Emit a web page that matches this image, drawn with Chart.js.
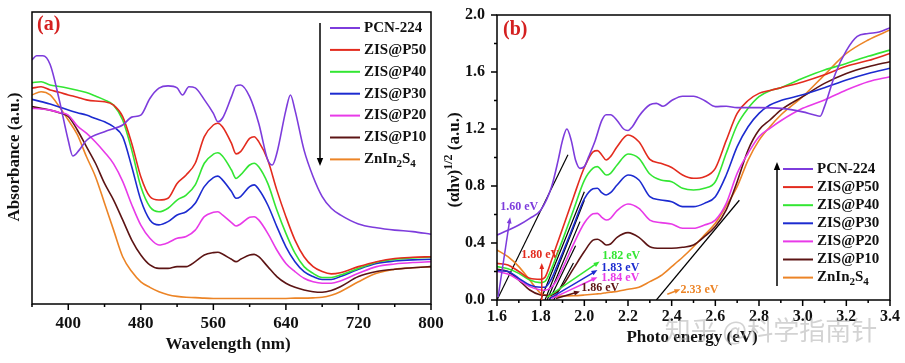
<!DOCTYPE html>
<html>
<head>
<meta charset="utf-8">
<script src="https://cdn.jsdelivr.net/npm/chart.js@4.4.1/dist/chart.umd.min.js"></script>
<style>
html, body { margin: 0; padding: 0; background: #fff; }
#wrap { position: relative; width: 905px; height: 363px; overflow: hidden; background: #fff; }
#chartA { position: absolute; left: 0; top: 0; }
#chartB { position: absolute; left: 440px; top: 0; }
</style>
</head>
<body>
<div id="wrap">
  <canvas id="chartA" width="452" height="363" style="width:452px;height:363px"></canvas>
  <canvas id="chartB" width="465" height="363" style="width:465px;height:363px"></canvas>
</div>
<script>
var SERIF = '"Liberation Serif", "Times New Roman", serif';

var seriesNames = ['PCN-224', 'ZIS@P50', 'ZIS@P40', 'ZIS@P30', 'ZIS@P20', 'ZIS@P10', 'ZnIn_2S_4'];
var seriesColors = ['#7d3cdc', '#e32b1e', '#33e633', '#1c2bd0', '#e83ae8', '#5c1414', '#ec8426'];

// ---- panel (a): absorbance, arbitrary units 0..100 ----
var wavelength = [360, 370, 380, 390, 400, 410, 420, 430, 440, 450, 460, 470, 480, 490, 500, 510, 520, 530, 540, 550, 560,
  565, 570, 580, 585, 590, 600, 605, 610, 620, 630, 640, 650, 660, 670, 680, 690, 700, 720, 740, 760, 780, 800];
var pcnWavelength = [360, 365, 372, 380, 390, 400, 405, 412, 420, 440, 460, 470, 480, 490, 500, 510, 520, 526, 533, 540,
  550, 560, 565, 570, 580, 585, 590, 600, 610, 620, 625, 630, 640, 645, 650, 660, 670, 680, 690, 700, 720, 740, 760, 780, 800];

var absPCN = [83.6, 85, 85, 82, 70, 56, 50.7, 52.7, 56, 59, 61.3, 64, 64.7, 70.4, 73.9, 74.7, 74, 71.6, 74.4, 74,
  70, 65.3, 62.4, 63.6, 71, 74.7, 75, 71, 61.9, 49.3, 47.6, 51.6, 66.4, 71.6, 66.4, 52.7, 43.6, 36.8, 32.8, 30.5, 27.4, 26.1, 25.3, 24.8, 23.9];
var absP50 = [73.9, 74.4, 73.3, 72.5, 71.6, 70.8, 69.9, 69.5, 69.3, 68.1, 64.2, 55, 43.6, 36.8, 35.6, 36.2, 41.3, 44.2, 48.2, 57.3, 61.3,
  61.9, 60.7, 55, 51.4, 52.2, 56.7, 57.3, 55.6, 49.3, 39, 29.9, 21.9, 16.2, 12.8, 11.1, 10.3, 10.7, 12.8, 14.5, 15.6, 16, 16.2];
var absP40 = [75.8, 76.1, 75, 74.5, 73.9, 73.2, 72.4, 71.2, 69.9, 68.1, 63, 52.7, 40.2, 33.3, 31.6, 32.8, 35.6, 37.3, 40.8, 48.2, 51.3,
  51.8, 50.7, 45.9, 43, 44.2, 47.6, 48.2, 47, 41.3, 32.2, 24.2, 17.4, 12.8, 10.5, 9.1, 9.1, 9.9, 12.2, 14.3, 15.3, 15.8, 16];
var absP30 = [70.1, 69.3, 68.5, 67.5, 66.4, 65.5, 64.7, 63.5, 62.4, 60.7, 57.3, 47, 35.6, 28.8, 27.1, 28.2, 30.5, 31.6, 34.5, 40.2, 43.3,
  43.8, 42.5, 38.5, 36.2, 36.8, 40.2, 40.8, 39.3, 33.9, 26.5, 19.6, 14.5, 11.1, 9.4, 8.4, 8.4, 9.4, 11.9, 13.9, 14.7, 15.1, 15.3];
var absP20 = [67, 66.8, 66.4, 65.6, 64.7, 61, 58.5, 55.5, 52, 48, 42, 34, 27, 22.5, 20.2, 21, 22.5, 23.1, 25.3, 29.9, 31.4,
  31.6, 30.5, 27.9, 26.7, 27.4, 29.7, 29.9, 28.8, 24.2, 18.5, 13.9, 11.1, 8.8, 7.6, 7.1, 7.1, 7.9, 10.5, 12.8, 13.7, 14.2, 14.5];
var absP10 = [67.6, 67, 66.4, 65.5, 64.2, 59.6, 53.9, 48.2, 41.3, 35.6, 28.8, 21.9, 16.8, 13.4, 12.2, 12.2, 12.8, 12.8, 14.5, 16.8, 17.6,
  17.7, 17.1, 15.3, 14.5, 15.3, 16.8, 17, 16.2, 12.8, 9.4, 7.1, 5.7, 4.8, 4.2, 4, 4.6, 5.9, 9.4, 11.1, 11.9, 12.4, 12.8];
var absZIS = [71.6, 72.7, 71.6, 67.6, 63, 58, 50.5, 43.6, 34.5, 25.3, 16.2, 11.1, 7.6, 5.7, 4.2, 3.2, 2.6, 2.3, 2.2, 2, 1.9,
  1.9, 1.9, 1.9, 1.9, 1.9, 1.9, 1.9, 1.9, 1.9, 1.9, 1.9, 2, 2, 2.1, 2.3, 3, 4.2, 7.6, 10.5, 11.9, 12.4, 12.8];

// ---- panel (b): Tauc plot ----
var energy = [1.6, 1.65, 1.7, 1.75, 1.8, 1.82, 1.85, 1.87, 1.9, 1.95, 2.0, 2.04, 2.06, 2.08, 2.1, 2.12, 2.15, 2.2, 2.25, 2.3,
  2.35, 2.4, 2.45, 2.5, 2.55, 2.6, 2.65, 2.7, 2.75, 2.8, 2.85, 2.9, 3.0, 3.1, 3.2, 3.3, 3.4];
var pcnEnergy = [1.6, 1.65, 1.7, 1.75, 1.8, 1.85, 1.88, 1.9, 1.92, 1.94, 1.96, 1.98, 2.0, 2.02, 2.05, 2.08, 2.1, 2.12, 2.15, 2.18,
  2.2, 2.22, 2.25, 2.3, 2.33, 2.36, 2.4, 2.45, 2.5, 2.55, 2.6, 2.65, 2.7, 2.8, 2.9, 3.0, 3.05, 3.08, 3.1, 3.15, 3.2, 3.25, 3.3, 3.35, 3.4];

var taucPCN = [0.456, 0.49, 0.526, 0.573, 0.63, 0.795, 0.98, 1.12, 1.2, 1.12, 0.98, 0.924, 0.936, 1.006, 1.12, 1.26, 1.3, 1.3, 1.26, 1.2,
  1.19, 1.216, 1.29, 1.37, 1.38, 1.36, 1.40, 1.43, 1.43, 1.40, 1.357, 1.36, 1.35, 1.35, 1.345, 1.32, 1.3, 1.29, 1.357, 1.59, 1.75, 1.85, 1.87, 1.88, 1.91];
var taucP50 = [0.257, 0.246, 0.2, 0.152, 0.145, 0.16, 0.28, 0.37, 0.5, 0.72, 0.93, 1.04, 1.048, 1.018, 0.982, 1.006, 1.076, 1.158, 1.11, 0.987,
  0.959, 0.93, 0.877, 0.854, 0.865, 0.924, 1.12, 1.31, 1.40, 1.45, 1.47, 1.49, 1.53, 1.58, 1.64, 1.68, 1.73];
var taucP40 = [0.234, 0.22, 0.187, 0.14, 0.122, 0.13, 0.22, 0.3, 0.42, 0.63, 0.84, 0.925, 0.936, 0.908, 0.877, 0.889, 0.947, 1.025, 0.994, 0.884,
  0.842, 0.83, 0.784, 0.772, 0.784, 0.83, 1.03, 1.228, 1.345, 1.427, 1.469, 1.49, 1.556, 1.614, 1.66, 1.71, 1.754];
var taucP30 = [0.206, 0.2, 0.152, 0.105, 0.089, 0.09, 0.15, 0.22, 0.33, 0.52, 0.71, 0.78, 0.784, 0.753, 0.737, 0.753, 0.807, 0.877, 0.842, 0.725,
  0.702, 0.69, 0.655, 0.655, 0.678, 0.725, 0.877, 1.076, 1.216, 1.31, 1.368, 1.40, 1.44, 1.49, 1.544, 1.59, 1.626];
var taucP20 = [0.2, 0.182, 0.14, 0.094, 0.07, 0.068, 0.09, 0.13, 0.22, 0.39, 0.54, 0.605, 0.608, 0.58, 0.561, 0.573, 0.627, 0.674, 0.643, 0.561,
  0.543, 0.533, 0.503, 0.503, 0.526, 0.561, 0.678, 0.889, 1.03, 1.146, 1.205, 1.258, 1.345, 1.404, 1.474, 1.532, 1.567];
var taucP10 = [0.215, 0.2, 0.14, 0.07, 0.035, 0.033, 0.035, 0.05, 0.1, 0.22, 0.34, 0.42, 0.426, 0.41, 0.386, 0.393, 0.44, 0.473, 0.44, 0.374,
  0.363, 0.363, 0.37, 0.386, 0.444, 0.515, 0.632, 0.83, 1.053, 1.193, 1.263, 1.333, 1.427, 1.52, 1.59, 1.637, 1.672];
var taucZIS = [0.351, 0.304, 0.234, 0.14, 0.047, 0.035, 0.023, 0.025, 0.028, 0.03, 0.035, 0.04, 0.043, 0.046, 0.051, 0.055, 0.06, 0.075, 0.09, 0.129,
  0.17, 0.234, 0.3, 0.374, 0.455, 0.538, 0.66, 0.795, 0.982, 1.12, 1.216, 1.298, 1.427, 1.58, 1.73, 1.825, 1.895];

// tangent lines (x intercept -> end point)
var tangentX0 = [1.60, 1.80, 1.82, 1.83, 1.84, 1.86, 2.33];
var tangentX1 = [1.925, 2.0, 2.0, 1.98, 1.96, 1.95, 2.71];
var tangentY1 = [1.02, 0.76, 0.70, 0.55, 0.38, 0.26, 0.70];

// band gap notes
var gapLabels = ['1.60 eV', '1.80 eV', '1.82 eV', '1.83 eV', '1.84 eV', '1.86 eV', '2.33 eV'];
var arrowX0 = [1.605, 1.805, 1.83, 1.84, 1.85, 1.87, 2.38];
var arrowY0 = [0.02, 0.0, 0.02, 0.01, 0.01, 0.01, 0.04];
var arrowX1 = [1.66, 1.805, 2.07, 2.06, 2.06, 1.98, 2.44];
var arrowY1 = [0.58, 0.26, 0.27, 0.21, 0.16, 0.06, 0.075];
var labelX = [1.702, 1.798, 2.169, 2.165, 2.165, 2.073, 2.527];
var labelY = [0.653, 0.316, 0.309, 0.225, 0.154, 0.084, 0.07];

function lineSet(xs, ys, color) {
  return {
    data: xs.map(function (x, i) { return { x: x, y: ys[i] }; }),
    borderColor: color,
    borderWidth: 1.6,
    pointRadius: 0,
    cubicInterpolationMode: 'monotone',
    fill: false
  };
}

function drawRich(ctx, text, x, y, size, color) {
  var parts = text.split(/(_\d)/).filter(Boolean);
  ctx.fillStyle = color;
  ctx.textBaseline = 'middle';
  ctx.textAlign = 'left';
  var cx = x;
  parts.forEach(function (p) {
    var sub = p[0] === '_';
    var s = sub ? p.slice(1) : p;
    ctx.font = 'bold ' + (sub ? Math.round(size * 0.72) : size) + 'px ' + SERIF;
    ctx.fillText(s, cx, y + (sub ? size * 0.3 : 0));
    cx += ctx.measureText(s).width;
  });
}

function drawArrow(ctx, x0, y0, x1, y1, color, lw, hs) {
  var ang = Math.atan2(y1 - y0, x1 - x0);
  ctx.strokeStyle = color;
  ctx.fillStyle = color;
  ctx.lineWidth = lw;
  ctx.beginPath();
  ctx.moveTo(x0, y0);
  ctx.lineTo(x1 - Math.cos(ang) * hs * 0.8, y1 - Math.sin(ang) * hs * 0.8);
  ctx.stroke();
  ctx.beginPath();
  ctx.moveTo(x1, y1);
  ctx.lineTo(x1 - hs * Math.cos(ang) + hs * 0.4 * Math.sin(ang), y1 - hs * Math.sin(ang) - hs * 0.4 * Math.cos(ang));
  ctx.lineTo(x1 - hs * Math.cos(ang) - hs * 0.4 * Math.sin(ang), y1 - hs * Math.sin(ang) + hs * 0.4 * Math.cos(ang));
  ctx.closePath();
  ctx.fill();
}

function drawFrame(chart, yTicks) {
  var ctx = chart.ctx, a = chart.chartArea, sx = chart.scales.x;
  ctx.strokeStyle = '#000';
  ctx.lineWidth = 1.5;
  ctx.strokeRect(a.left, a.top, a.right - a.left, a.bottom - a.top);
  ctx.beginPath();
  sx.ticks.forEach(function (t) {
    var px = sx.getPixelForValue(t.value);
    var len = t.label ? 6 : 3;
    ctx.moveTo(px, a.bottom);
    ctx.lineTo(px, a.bottom + len);
  });
  if (yTicks) {
    var sy = chart.scales.y;
    sy.ticks.forEach(function (t) {
      var py = sy.getPixelForValue(t.value);
      var len = t.label ? 6 : 3;
      ctx.moveTo(a.left, py);
      ctx.lineTo(a.left - len, py);
    });
  }
  ctx.stroke();
}

function drawLegend(ctx, x0, x1, tx, y0, dy, size) {
  seriesNames.forEach(function (name, i) {
    var y = y0 + i * dy;
    ctx.strokeStyle = seriesColors[i];
    ctx.lineWidth = 2;
    ctx.beginPath();
    ctx.moveTo(x0, y);
    ctx.lineTo(x1, y);
    ctx.stroke();
    drawRich(ctx, name, tx, y, size, '#111');
  });
}

Chart.defaults.font.family = SERIF;
Chart.defaults.color = '#111';

var decorA = {
  id: 'decorA',
  afterDraw: function (chart) {
    var ctx = chart.ctx, a = chart.chartArea;
    ctx.save();
    drawFrame(chart, false);
    // axis titles
    ctx.fillStyle = '#111';
    ctx.font = 'bold 17px ' + SERIF;
    ctx.textAlign = 'center';
    ctx.textBaseline = 'middle';
    ctx.fillText('Wavelength (nm)', 228, 345);
    ctx.save();
    ctx.translate(15, 157);
    ctx.rotate(-Math.PI / 2);
    ctx.fillText('Absorbance (a.u.)', 0, 0);
    ctx.restore();
    // panel letter
    ctx.fillStyle = '#d42020';
    ctx.font = 'bold 20px ' + SERIF;
    ctx.textAlign = 'left';
    ctx.fillText('(a)', a.left + 5, a.top + 13);
    // legend
    drawArrow(ctx, 320, 23, 320, 166, '#000', 1.5, 8);
    drawLegend(ctx, 330, 360, 364, 28, 21.9, 15);
    ctx.restore();
  }
};

var decorB = {
  id: 'decorB',
  afterDraw: function (chart) {
    var ctx = chart.ctx, a = chart.chartArea, sx = chart.scales.x, sy = chart.scales.y;
    ctx.save();
    drawFrame(chart, true);
    // band gap arrows and labels
    gapLabels.forEach(function (lab, i) {
      drawArrow(ctx, sx.getPixelForValue(arrowX0[i]), sy.getPixelForValue(arrowY0[i]),
        sx.getPixelForValue(arrowX1[i]), sy.getPixelForValue(arrowY1[i]), seriesColors[i], 1.5, 6);
      ctx.fillStyle = seriesColors[i];
      ctx.font = 'bold 12px ' + SERIF;
      ctx.textAlign = 'center';
      ctx.textBaseline = 'middle';
      ctx.fillText(lab, sx.getPixelForValue(labelX[i]), sy.getPixelForValue(labelY[i]));
    });
    // axis titles
    ctx.fillStyle = '#111';
    ctx.font = 'bold 17px ' + SERIF;
    ctx.textAlign = 'center';
    ctx.textBaseline = 'middle';
    ctx.fillText('Photo energy (eV)', 252, 338);
    ctx.save();
    ctx.translate(15, 160);
    ctx.rotate(-Math.PI / 2);
    var p1 = '(\u03b1h\u03bd)', p2 = '1/2', p3 = ' (a.u.)';
    ctx.font = 'bold 17px ' + SERIF;
    var w1 = ctx.measureText(p1).width, w3 = ctx.measureText(p3).width;
    ctx.font = 'bold 12px ' + SERIF;
    var w2 = ctx.measureText(p2).width;
    var sx0 = -(w1 + w2 + w3) / 2;
    ctx.textAlign = 'left';
    ctx.font = 'bold 17px ' + SERIF;
    ctx.fillText(p1, sx0, 0);
    ctx.fillText(p3, sx0 + w1 + w2, 0);
    ctx.font = 'bold 12px ' + SERIF;
    ctx.fillText(p2, sx0 + w1, -6);
    ctx.restore();
    // panel letter
    ctx.fillStyle = '#d42020';
    ctx.font = 'bold 20px ' + SERIF;
    ctx.textAlign = 'left';
    ctx.fillText('(b)', a.left + 6, a.top + 15);
    // legend
    drawArrow(ctx, 337, 286, 337, 162, '#000', 1.5, 8);
    drawLegend(ctx, 343, 373, 377, 169, 18.1, 15);
    // watermark
    ctx.font = '26px "Noto Sans CJK SC", sans-serif';
    ctx.fillStyle = 'rgba(175,175,175,0.55)';
    ctx.textAlign = 'center';
    ctx.fillText('\u77e5\u4e4e @\u79d1\u5b66\u6307\u5357\u9488', 331, 330);
    ctx.restore();
  }
};

var absSets = [
  lineSet(pcnWavelength, absPCN, seriesColors[0]),
  lineSet(wavelength, absP50, seriesColors[1]),
  lineSet(wavelength, absP40, seriesColors[2]),
  lineSet(wavelength, absP30, seriesColors[3]),
  lineSet(wavelength, absP20, seriesColors[4]),
  lineSet(wavelength, absP10, seriesColors[5]),
  lineSet(wavelength, absZIS, seriesColors[6])
];

new Chart(document.getElementById('chartA'), {
  type: 'line',
  data: { datasets: absSets },
  options: {
    responsive: false,
    animation: false,
    parsing: false,
    layout: { autoPadding: false, padding: { left: 32, top: 12, right: 21, bottom: 0 } },
    plugins: { legend: { display: false }, tooltip: { enabled: false } },
    scales: {
      x: {
        type: 'linear', min: 360, max: 800,
        grid: { display: false, drawTicks: false },
        border: { display: false },
        ticks: {
          stepSize: 40, autoSkip: false, maxRotation: 0, padding: 9,
          font: { size: 17, weight: 'bold' }, color: '#111',
          callback: function (v) { return v % 80 === 0 ? String(v) : ''; }
        },
        afterFit: function (s) { s.height = 59; s.paddingLeft = 0; s.paddingRight = 0; }
      },
      y: { display: false, min: 0, max: 100 }
    }
  },
  plugins: [decorA]
});

var taucSets = [
  lineSet(pcnEnergy, taucPCN, seriesColors[0]),
  lineSet(energy, taucP50, seriesColors[1]),
  lineSet(energy, taucP40, seriesColors[2]),
  lineSet(energy, taucP30, seriesColors[3]),
  lineSet(energy, taucP20, seriesColors[4]),
  lineSet(energy, taucP10, seriesColors[5]),
  lineSet(energy, taucZIS, seriesColors[6])
];
tangentX0.forEach(function (x0, i) {
  taucSets.push({
    data: [{ x: x0, y: 0 }, { x: tangentX1[i], y: tangentY1[i] }],
    borderColor: '#000', borderWidth: 1.2, pointRadius: 0, fill: false
  });
});

new Chart(document.getElementById('chartB'), {
  type: 'line',
  data: { datasets: taucSets },
  options: {
    responsive: false,
    animation: false,
    parsing: false,
    layout: { autoPadding: false, padding: { left: 0, top: 15, right: 15, bottom: 0 } },
    plugins: { legend: { display: false }, tooltip: { enabled: false } },
    scales: {
      x: {
        type: 'linear', min: 1.6, max: 3.4,
        grid: { display: false, drawTicks: false },
        border: { display: false },
        ticks: {
          stepSize: 0.1, autoSkip: false, maxRotation: 0, padding: 7,
          font: { size: 16, weight: 'bold' }, color: '#111',
          callback: function (v) { var k = Math.round(v * 10); return k % 2 === 0 ? (k / 10).toFixed(1) : ''; }
        },
        afterFit: function (s) { s.height = 63; s.paddingLeft = 0; s.paddingRight = 0; }
      },
      y: {
        type: 'linear', min: 0, max: 2,
        grid: { display: false, drawTicks: false },
        border: { display: false },
        ticks: {
          stepSize: 0.2, autoSkip: false, padding: 12,
          font: { size: 16, weight: 'bold' }, color: '#111',
          callback: function (v) { var k = Math.round(v * 10); return k % 4 === 0 ? (k / 10).toFixed(1) : ''; }
        },
        afterFit: function (s) { s.width = 57; s.paddingTop = 0; s.paddingBottom = 0; }
      }
    }
  },
  plugins: [decorB]
});
</script>
</body>
</html>
